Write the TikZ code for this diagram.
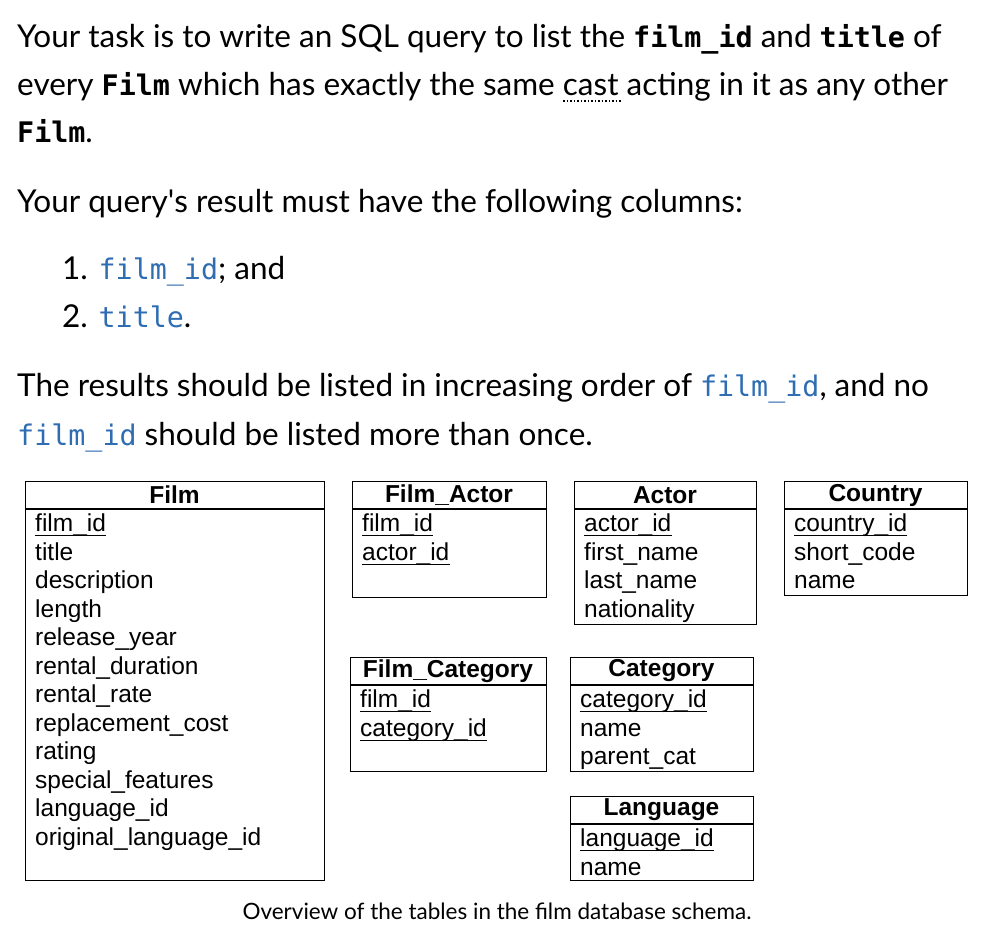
\documentclass[tikz,border=0pt]{standalone}
\usepackage{fontspec}
\setmainfont{Lato}[Ligatures={RareOff,DiscretionaryOff,HistoricOff}]
\setsansfont{Liberation Sans}
\setmonofont{DejaVu Sans Mono}[Scale=0.9]
\usetikzlibrary{positioning,calc}
\definecolor{codeblue}{HTML}{2F6DB3}
\newcommand{\cd}[1]{{\ttfamily\bfseries #1}}
\newcommand{\bc}[1]{{\ttfamily\color{codeblue}#1}}
\tikzset{
  para/.style={anchor=base west, inner sep=0pt, font=\fontsize{31.5}{48}\selectfont},
  tbox/.style={draw, line width=1.3pt, anchor=north west, inner sep=0pt},
  thead/.style={font=\sffamily\bfseries\fontsize{24.5}{26}\selectfont, inner sep=0pt},
  trow/.style={anchor=base west, inner sep=0pt, font=\sffamily\fontsize{24.5}{26}\selectfont},
}
% table: name, x1, y1, x2, y2, title, key rows, other rows
\newcommand{\dbtable}[8]{%
  \node[tbox, minimum width=#4-#2, minimum height=#5-#3] (#1) at (#2,#3) {};
  \draw[line width=1.3pt] (#2,#3+28) -- (#4,#3+28);
  \node[thead] (#1-title) at ($(#2,#3)!0.5!(#4,#3)+(0,14)$) {#6};
  \foreach \f [count=\i] in {#7} {
    \node[trow] (#1-k\i) at (#2+10,#3+22+28.5*\i) {\f};
    \draw[line width=1pt] ([yshift=-4pt]#1-k\i.base west) -- ([yshift=-4pt]#1-k\i.base east);
  }
  \def\nk{0}\foreach \f [count=\i] in {#7} {\xdef\nk{\i}}
  \foreach \f [count=\i] in {#8} {
    \node[trow] (#1-r\i) at (#2+10,#3+22+28.5*\i+28.5*\nk) {\f};
  }
}
\begin{document}
\begin{tikzpicture}[x=1pt,y=-1pt]
  \useasboundingbox (0,0) rectangle (1004,948);
  % task text
  \node[para] (l1) at (17,47) {Your task is to write an SQL query to list the \cd{film\_id} and \cd{title} of};
  \node[para] (l2) at (17,95) {every \cd{Film} which has exactly the same cast acting in it as any other};
  \node[para] (l3) at (17,142) {\cd{Film}.};
  \node[para] (l4) at (17,212) {Your query\textquotesingle s result must have the following columns:};
  \node[para] (l5) at (62,279) {1. \bc{film\_id}; and};
  \node[para] (l6) at (62,327) {2. \bc{title}.};
  \node[para] (l7) at (17,396) {The results should be listed in increasing order of \bc{film\_id}, and no};
  \node[para] (l8) at (17,445) {\bc{film\_id} should be listed more than once.};
  \draw[dotted, line width=1.5pt] (563,101) -- (622,101);
  % tables
  \dbtable{film}{25}{481}{324}{880}{Film}{film\_id}{title,description,length,release\_year,rental\_duration,rental\_rate,replacement\_cost,rating,special\_features,language\_id,original\_language\_id}
  \dbtable{filmactor}{352}{481}{546}{597}{Film\_Actor}{film\_id,actor\_id}{}
  \dbtable{actor}{574}{481}{756}{624}{Actor}{actor\_id}{first\_name,last\_name,nationality}
  \dbtable{country}{784}{481}{967}{595}{Country}{country\_id}{short\_code,name}
  \dbtable{filmcat}{350}{657}{546}{771}{Film\_Category}{film\_id,category\_id}{}
  \dbtable{category}{570}{657}{753}{771}{Category}{category\_id}{name,parent\_cat}
  \dbtable{language}{570}{796}{753}{880}{Language}{language\_id}{name}
  \node[font=\fontsize{22.5}{26}\selectfont] (caption) at (497,911) {Overview of the tables in the film database schema.};
\end{tikzpicture}
\end{document}
